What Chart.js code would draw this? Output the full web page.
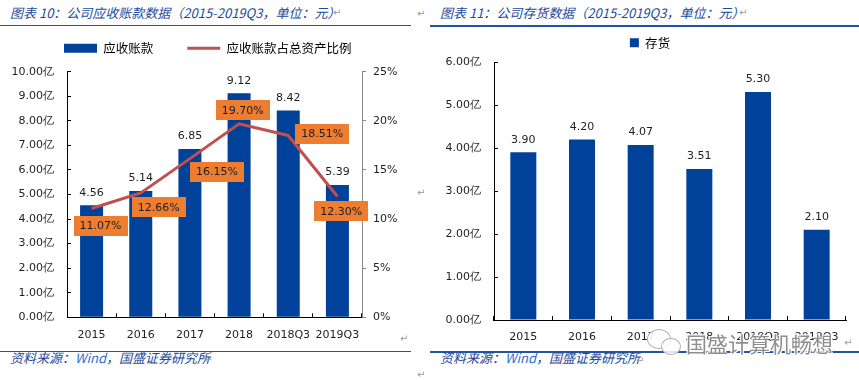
<!DOCTYPE html>
<html>
<head>
<meta charset="utf-8">
<script src="https://cdn.jsdelivr.net/npm/chart.js@4/dist/chart.umd.min.js"></script>
<style>
  html, body { margin: 0; padding: 0; background: #fff; }
  body { width: 859px; height: 380px; position: relative; overflow: hidden; }
  .title { position: absolute; font-family: "Noto Sans CJK SC", sans-serif; font-size: 13px; line-height: 16px;
           font-style: italic; color: #1b4a9c; white-space: nowrap; }
  .foot { position: absolute; font-family: "Noto Sans CJK SC", sans-serif; font-size: 13px; line-height: 16px;
          font-style: italic; color: #1b4a9c; white-space: nowrap; }
  .foot .w { color: #2f6fd0; }
  .rule { position: absolute; height: 1.5px; background: #2553a3; }
  .pm { position: absolute; font-family: "DejaVu Sans", sans-serif; font-size: 10px; line-height: 12px; color: #9a9a9a; }
  .wm { position: absolute; font-family: "Noto Sans CJK SC", sans-serif; font-size: 21px; line-height: 24px; color: #8e8e8e;
        white-space: nowrap; text-shadow: 0 0 2px #fff, 0 0 2px #fff, 1px 1px 0 #fff, -1px -1px 0 #fff; z-index: 5; }
  .bub { position: absolute; border: 1.5px solid #b0b0b0; border-radius: 50%; background: rgba(255,255,255,0.85); z-index: 5; }
  canvas { position: absolute; z-index: 2; }
</style>
</head>
<body>
<div class="title" style="left:10px;top:5px;">图表 10：公司应收账款数据（2015-2019Q3，单位：元）</div>
<div class="pm" style="left:333px;top:7px;">↵</div>
<div class="pm" style="left:417px;top:8px;">↵</div>
<div class="rule" style="left:0;top:24.5px;width:411px;"></div>

<div class="title" style="left:440px;top:5px;">图表 11：公司存货数据（2015-2019Q3，单位：元）</div>
<div class="pm" style="left:739px;top:7px;">↵</div>
<div class="rule" style="left:430px;top:25px;width:429px;"></div>

<div class="pm" style="left:417px;top:187px;">↵</div>
<div class="pm" style="left:400px;top:333px;">↵</div>
<div class="pm" style="left:844px;top:337px;">↵</div>

<div class="rule" style="left:0;top:350.5px;width:411px;"></div>
<div class="rule" style="left:430px;top:351px;width:429px;"></div>
<div class="foot" style="left:10px;top:350px;">资料来源：<span class="w">Wind</span>，国盛证券研究所</div>
<div class="pm" style="left:204px;top:354px;">↵</div>
<div class="foot" style="left:440px;top:350px;">资料来源：<span class="w">Wind</span>，国盛证券研究所</div>
<div class="pm" style="left:636px;top:355px;">↵</div>
<div class="pm" style="left:417px;top:369px;">↵</div>

<canvas id="c1" width="420" height="342" style="left:0;top:8px;"></canvas>
<canvas id="c2" width="429" height="324" style="left:430px;top:26px;"></canvas>

<div class="bub" style="left:647px;top:329px;width:22px;height:18px;"></div>
<div class="bub" style="left:661px;top:338px;width:18px;height:15px;"></div>
<div class="wm" style="left:686px;top:331px;">国盛计算机畅想</div>

<script>
// ---------------- data ----------------
const receivableCategories = ['2015', '2016', '2017', '2018', '2018Q3', '2019Q3'];
const receivableValues = [4.56, 5.14, 6.85, 9.12, 8.42, 5.39];          // 亿元
const receivableRatio = [11.07, 12.66, 16.15, 19.70, 18.51, 12.30];    // %
const receivableAxisMax = 10;   // 亿
const ratioAxisMax = 25;        // %

const inventoryCategories = ['2015', '2016', '2017', '2018', '2018Q3', '2019Q3'];
const inventoryValues = [3.90, 4.20, 4.07, 3.51, 5.30, 2.10];          // 亿元
const inventoryAxisMax = 6;     // 亿

const receivableLegend = ['应收账款', '应收账款占总资产比例'];
const inventoryLegend = ['存货'];

// ---------------- style ----------------
const BLUE = '#00419a';
const RED = '#c0504d';
const ORANGE = '#ed7d31';
const TXT = '#1e1e1e';
const NUM_FONT = '"DejaVu Sans", "Liberation Sans", sans-serif';
const CJK_FONT = '"Noto Sans CJK SC", sans-serif';
// offsets of the percentage label boxes relative to their line points (px)
const ratioLabelOffsets = [[9, 17.5], [18, 14.5], [27, 13.4], [3.7, -13.5], [34, -1.6], [3.8, 15]];

Chart.defaults.font.family = NUM_FONT;
Chart.defaults.color = TXT;
Chart.defaults.animation = false;

// legend spacing helper: extra space below the legend, horizontal shift of its items
const legendFit = {
  id: 'legendFit',
  beforeLayout(chart, args, opts) {
    const lg = chart.legend;
    if (!lg || lg._fitPatched) return;
    const fit = lg.fit.bind(lg);
    const draw = lg.draw.bind(lg);
    lg.fit = function () { fit(); this.height += (opts.extra || 0); };
    lg.draw = function () {
      const c = this.ctx;
      c.save();
      c.translate(opts.dx || 0, 0);
      draw();
      c.restore();
    };
    lg._fitPatched = true;
  }
};

// data labels
const dataLabels = {
  id: 'dataLabels',
  afterDatasetsDraw(chart, args, opts) {
    const ctx = chart.ctx;
    chart.data.datasets.forEach((ds, di) => {
      const meta = chart.getDatasetMeta(di);
      if (meta.hidden) return;
      ctx.save();
      ctx.font = opts.font;
      ctx.textAlign = 'center';
      ctx.textBaseline = 'middle';
      if (meta.type === 'line') {
        meta.data.forEach((pt, i) => {
          const off = opts.offsets[i];
          const text = ds.data[i].toFixed(2) + '%';
          const w = Math.round(ctx.measureText(text).width + 2 * opts.padX);
          const h = opts.boxH;
          const cx = pt.x + off[0], cy = pt.y + off[1];
          ctx.fillStyle = opts.boxColor;
          ctx.fillRect(Math.round(cx - w / 2), Math.round(cy - h / 2), w, h);
          ctx.fillStyle = opts.color;
          ctx.fillText(text, cx, cy + 0.5);
        });
      } else {
        meta.data.forEach((bar, i) => {
          ctx.fillStyle = opts.color;
          ctx.fillText(ds.data[i].toFixed(2), bar.x, bar.y - opts.barGap);
        });
      }
      ctx.restore();
    });
  }
};

function legendLabels(chart) {
  const items = Chart.defaults.plugins.legend.labels.generateLabels(chart);
  items.forEach(it => {
    const ds = chart.data.datasets[it.datasetIndex];
    it.pointStyle = ds.type === 'line' ? 'line' : 'rect';
    it.text = ds.label;
  });
  return items;
}

// ---------------- chart 1 ----------------
new Chart(document.getElementById('c1'), {
  type: 'bar',
  data: {
    labels: receivableCategories,
    datasets: [
      {
        label: receivableLegend[0],
        data: receivableValues,
        backgroundColor: BLUE,
        borderWidth: 0,
        barPercentage: 0.468,
        categoryPercentage: 1,
        yAxisID: 'y',
        order: 1
      },
      {
        type: 'line',
        label: receivableLegend[1],
        data: receivableRatio,
        borderColor: RED,
        backgroundColor: RED,
        borderWidth: 3,
        pointRadius: 0,
        tension: 0,
        yAxisID: 'y1',
        order: 0
      }
    ]
  },
  options: {
    responsive: false,
    layout: { padding: { left: 0, right: 4.5, top: 0, bottom: 0 } },
    plugins: {
      tooltip: { enabled: false },
      legend: {
        position: 'top',
        labels: {
          usePointStyle: true,
          pointStyleWidth: 33,
          boxWidth: 33,
          boxHeight: 9,
          padding: 34,
          color: '#000',
          font: { family: CJK_FONT, size: 12.5 },
          generateLabels: legendLabels,
          sort: (a, b) => a.datasetIndex - b.datasetIndex
        }
      },
      legendFit: { extra: 7.2, dx: 0 },
      dataLabels: {
        font: '11px ' + NUM_FONT, color: TXT, barGap: 12.5,
        offsets: ratioLabelOffsets, padX: 6, boxH: 20, boxColor: ORANGE
      }
    },
    scales: {
      x: {
        offset: true,
        grid: { display: true, offset: true, drawOnChartArea: false, drawTicks: true, tickLength: -4, color: '#000' },
        border: { display: true, color: '#000', width: 1 },
        ticks: { font: { size: 11 }, color: TXT, padding: 15, maxRotation: 0, autoSkip: false },
        afterFit(s) { s.height = 32.7; }
      },
      y: {
        position: 'left',
        min: 0, max: receivableAxisMax,
        grid: { display: true, drawOnChartArea: false, drawTicks: true, tickLength: -4, color: '#000' },
        border: { display: true, color: '#000', width: 1 },
        ticks: { stepSize: 1, font: { size: 11 }, color: TXT, padding: 17,
                 callback: v => v.toFixed(2) + '亿' },
        afterFit(s) { s.width = 67; }
      },
      y1: {
        position: 'right',
        min: 0, max: ratioAxisMax,
        grid: { display: true, drawOnChartArea: false, drawTicks: true, tickLength: 4, color: '#888' },
        border: { display: true, color: '#888', width: 1 },
        ticks: { stepSize: 5, font: { size: 11 }, color: TXT, padding: 7,
                 callback: v => v + '%' },
        afterFit(s) { s.width = 53.5; }
      }
    }
  },
  plugins: [legendFit, dataLabels]
});

// ---------------- chart 2 ----------------
new Chart(document.getElementById('c2'), {
  type: 'bar',
  data: {
    labels: inventoryCategories,
    datasets: [
      {
        label: inventoryLegend[0],
        data: inventoryValues,
        backgroundColor: BLUE,
        borderWidth: 0,
        barPercentage: 0.443,
        categoryPercentage: 1
      }
    ]
  },
  options: {
    responsive: false,
    layout: { padding: { left: 0, right: 13, top: 0, bottom: 0 } },
    plugins: {
      tooltip: { enabled: false },
      legend: {
        position: 'top',
        labels: {
          usePointStyle: true,
          pointStyleWidth: 9,
          boxWidth: 9,
          boxHeight: 9,
          padding: 10.5,
          color: '#000',
          font: { family: CJK_FONT, size: 12.5 },
          generateLabels: legendLabels
        }
      },
      legendFit: { extra: 3, dx: 12 },
      dataLabels: { font: '11px ' + NUM_FONT, color: TXT, barGap: 12.5 }
    },
    scales: {
      x: {
        offset: true,
        grid: { display: true, offset: true, drawOnChartArea: false, drawTicks: true, tickLength: -4, color: '#000' },
        border: { display: true, color: '#000', width: 1 },
        ticks: { font: { size: 11 }, color: TXT, padding: 14.4, maxRotation: 0, autoSkip: false },
        afterFit(s) { s.height = 30; }
      },
      y: {
        position: 'left',
        min: 0, max: inventoryAxisMax,
        grid: { display: true, drawOnChartArea: false, drawTicks: true, tickLength: -4, color: '#000' },
        border: { display: true, color: '#000', width: 1 },
        ticks: { stepSize: 1, font: { size: 11 }, color: TXT, padding: 17,
                 callback: v => v.toFixed(2) + '亿' },
        afterFit(s) { s.width = 64; }
      }
    }
  },
  plugins: [legendFit, dataLabels]
});
</script>
</body>
</html>
